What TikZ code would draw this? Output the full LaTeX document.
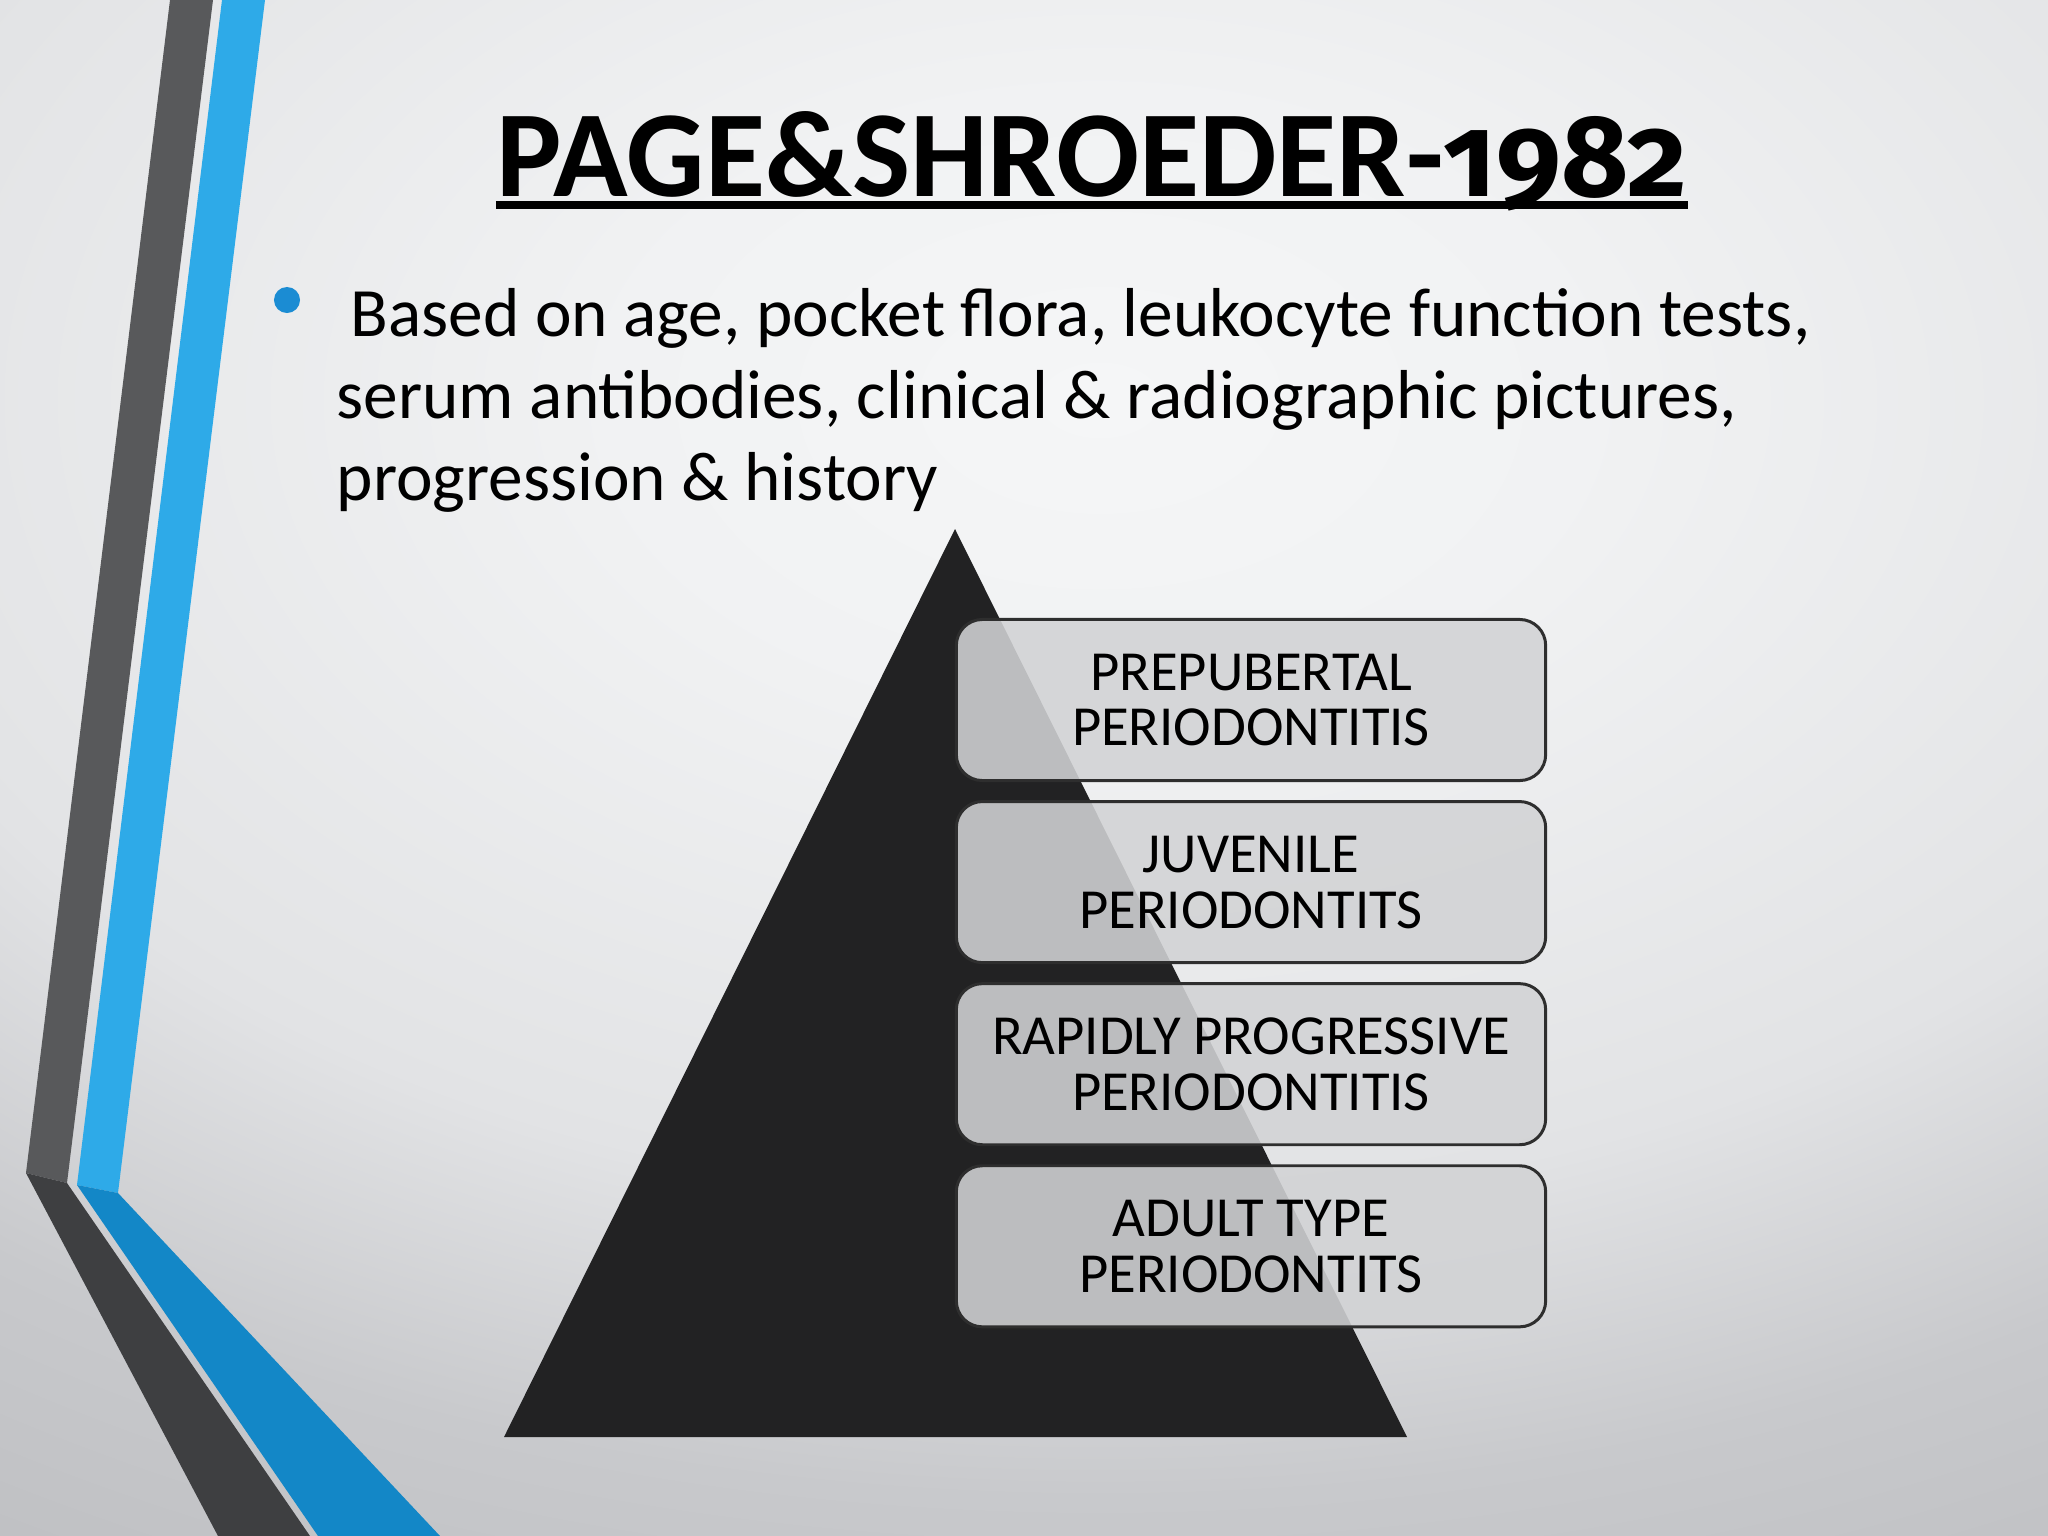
\documentclass[tikz,border=0pt]{standalone}
\usepackage{fontspec}
\setmainfont{Carlito}
\newfontfamily\headfont{Carlito}
\newfontfamily\yearfont{Fira Sans}[Numbers=OldStyle]
\usetikzlibrary{positioning}

\definecolor{bgin}{HTML}{F5F6F7}
\definecolor{bglite}{HTML}{F1F2F3}
\definecolor{bgmid}{HTML}{E2E3E5}
\definecolor{bglow}{HTML}{C8C9CC}
\definecolor{bgout}{HTML}{BFC0C3}
\definecolor{stripegrey}{HTML}{58595B}
\definecolor{stripedark}{HTML}{3E3F41}
\definecolor{stripeblue}{HTML}{2EAAE8}
\definecolor{stripedeep}{HTML}{1387C7}
\definecolor{pyramid}{HTML}{222223}
\definecolor{boxfill}{HTML}{D2D3D5}
\definecolor{boxline}{HTML}{2E2E2E}
\definecolor{dotblue}{HTML}{1B8CD3}

\pgfdeclareradialshading{slidebg}{\pgfpoint{0bp}{0bp}}{color(0bp)=(bgin); color(5.4bp)=(bglite); color(14.3bp)=(bgmid); color(19.6bp)=(bglow); color(24.1bp)=(bgout); color(50bp)=(bgout)}

\tikzset{
  tierbox/.style={draw=boxline, line width=0.85pt, fill=boxfill, fill opacity=0.88, text opacity=1,
    rounded corners=0.26cm, minimum width=5.89cm, minimum height=1.61cm, align=center, inner sep=0pt,
    font=\fontsize{16.1}{15.9}\selectfont},
}

\begin{document}
\begin{tikzpicture}[x=0.01cm,y=-0.01cm]
  \useasboundingbox (0,0) rectangle (2048,1536);
  \begin{scope}
    \clip (0,0) rectangle (2048,1536);
    \shade[shading=slidebg] (1100,400) ellipse[x radius=22.4cm, y radius=14cm];
  \end{scope}

  % stripes on the left
  \fill[stripegrey] (170,0) -- (213,0) -- (67,1183) -- (26,1173) -- cycle;
  \fill[stripedark] (26,1173) -- (67,1183) -- (310,1536) -- (218,1536) -- cycle;
  \fill[stripeblue] (222,0) -- (265,0) -- (118,1193) -- (77,1185) -- cycle;
  \fill[stripedeep] (77,1185) -- (118,1193) -- (440,1536) -- (318,1536) -- cycle;

  % title
  \node[anchor=base, inner sep=0pt, font=\headfont\bfseries\fontsize{35}{40}\selectfont] (title) at (1092,196)
    {PAGE\&SHROEDER-{\yearfont\fontsize{33}{40}\selectfont 1982}};
  \draw[line width=2pt] ([yshift=-0.09cm]title.base west) -- ([yshift=-0.09cm]title.base east);

  % bullet
  \fill[dotblue] (287,300) circle[radius=0.13cm];
  \node[anchor=base west, inner sep=0pt, align=left, font=\fontsize{19.7}{23.3}\selectfont] (basis) at (336,500)
    {\hspace{0.14cm}Based on age, pocket flora, leukocyte function tests,\\
     serum antibodies, clinical \& radiographic pictures,\\
     progression \& history};

  % pyramid
  \fill[pyramid] (955,529) -- (1407,1437) -- (504,1437) -- cycle;

  \node[tierbox] (pre) at (1251,700) {PREPUBERTAL\\PERIODONTITIS};
  \node[tierbox, below=0.18cm of pre] (juv) {JUVENILE\\PERIODONTITS};
  \node[tierbox, below=0.18cm of juv] (rap) {RAPIDLY PROGRESSIVE\\PERIODONTITIS};
  \node[tierbox, below=0.18cm of rap] (adu) {ADULT TYPE\\PERIODONTITS};
\end{tikzpicture}
\end{document}
